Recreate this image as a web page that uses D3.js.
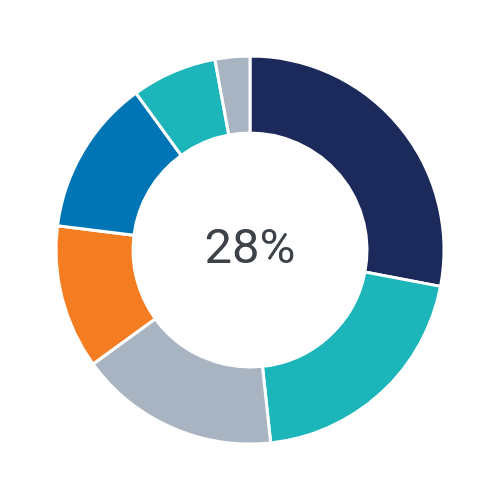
<!DOCTYPE html>
<html>
<head>
<meta charset="utf-8">
<script src="https://cdn.jsdelivr.net/npm/d3@7"></script>
<style>
  body { margin: 0; background: #fff; }
</style>
</head>
<body>
<svg id="chart" width="500" height="500"></svg>
<script>
// slice values (percent), clockwise from 12 o'clock
const values = [28, 20.3, 16.7, 12, 13, 7.1, 2.9];
const colors = ['#1b2a5a', '#1cb5b9', '#a9b4c3', '#f37d20', '#0075b6', '#1cb5b9', '#a9b4c3'];
const centerLabel = '28%';

const width = 500;
const height = 500;
const outerR = 194;
const innerR = 117;

const svg = d3.select('#chart');
const g = svg.append('g')
  .attr('transform', `translate(${width / 2}, ${height / 2})`);

const pie = d3.pie().sort(null).value(d => d);
const arc = d3.arc().innerRadius(innerR).outerRadius(outerR);

g.selectAll('path')
  .data(pie(values))
  .enter()
  .append('path')
  .attr('d', arc)
  .attr('fill', (d, i) => colors[i])
  .attr('stroke', '#fff')
  .attr('stroke-width', 3)
  .attr('stroke-linejoin', 'miter');

g.append('text')
  .attr('text-anchor', 'middle')
  .attr('dy', '0.27em')
  .attr('font-family', 'Roboto, sans-serif')
  .attr('font-size', 49)
  .attr('fill', '#3d4148')
  .text(centerLabel);
</script>
</body>
</html>
